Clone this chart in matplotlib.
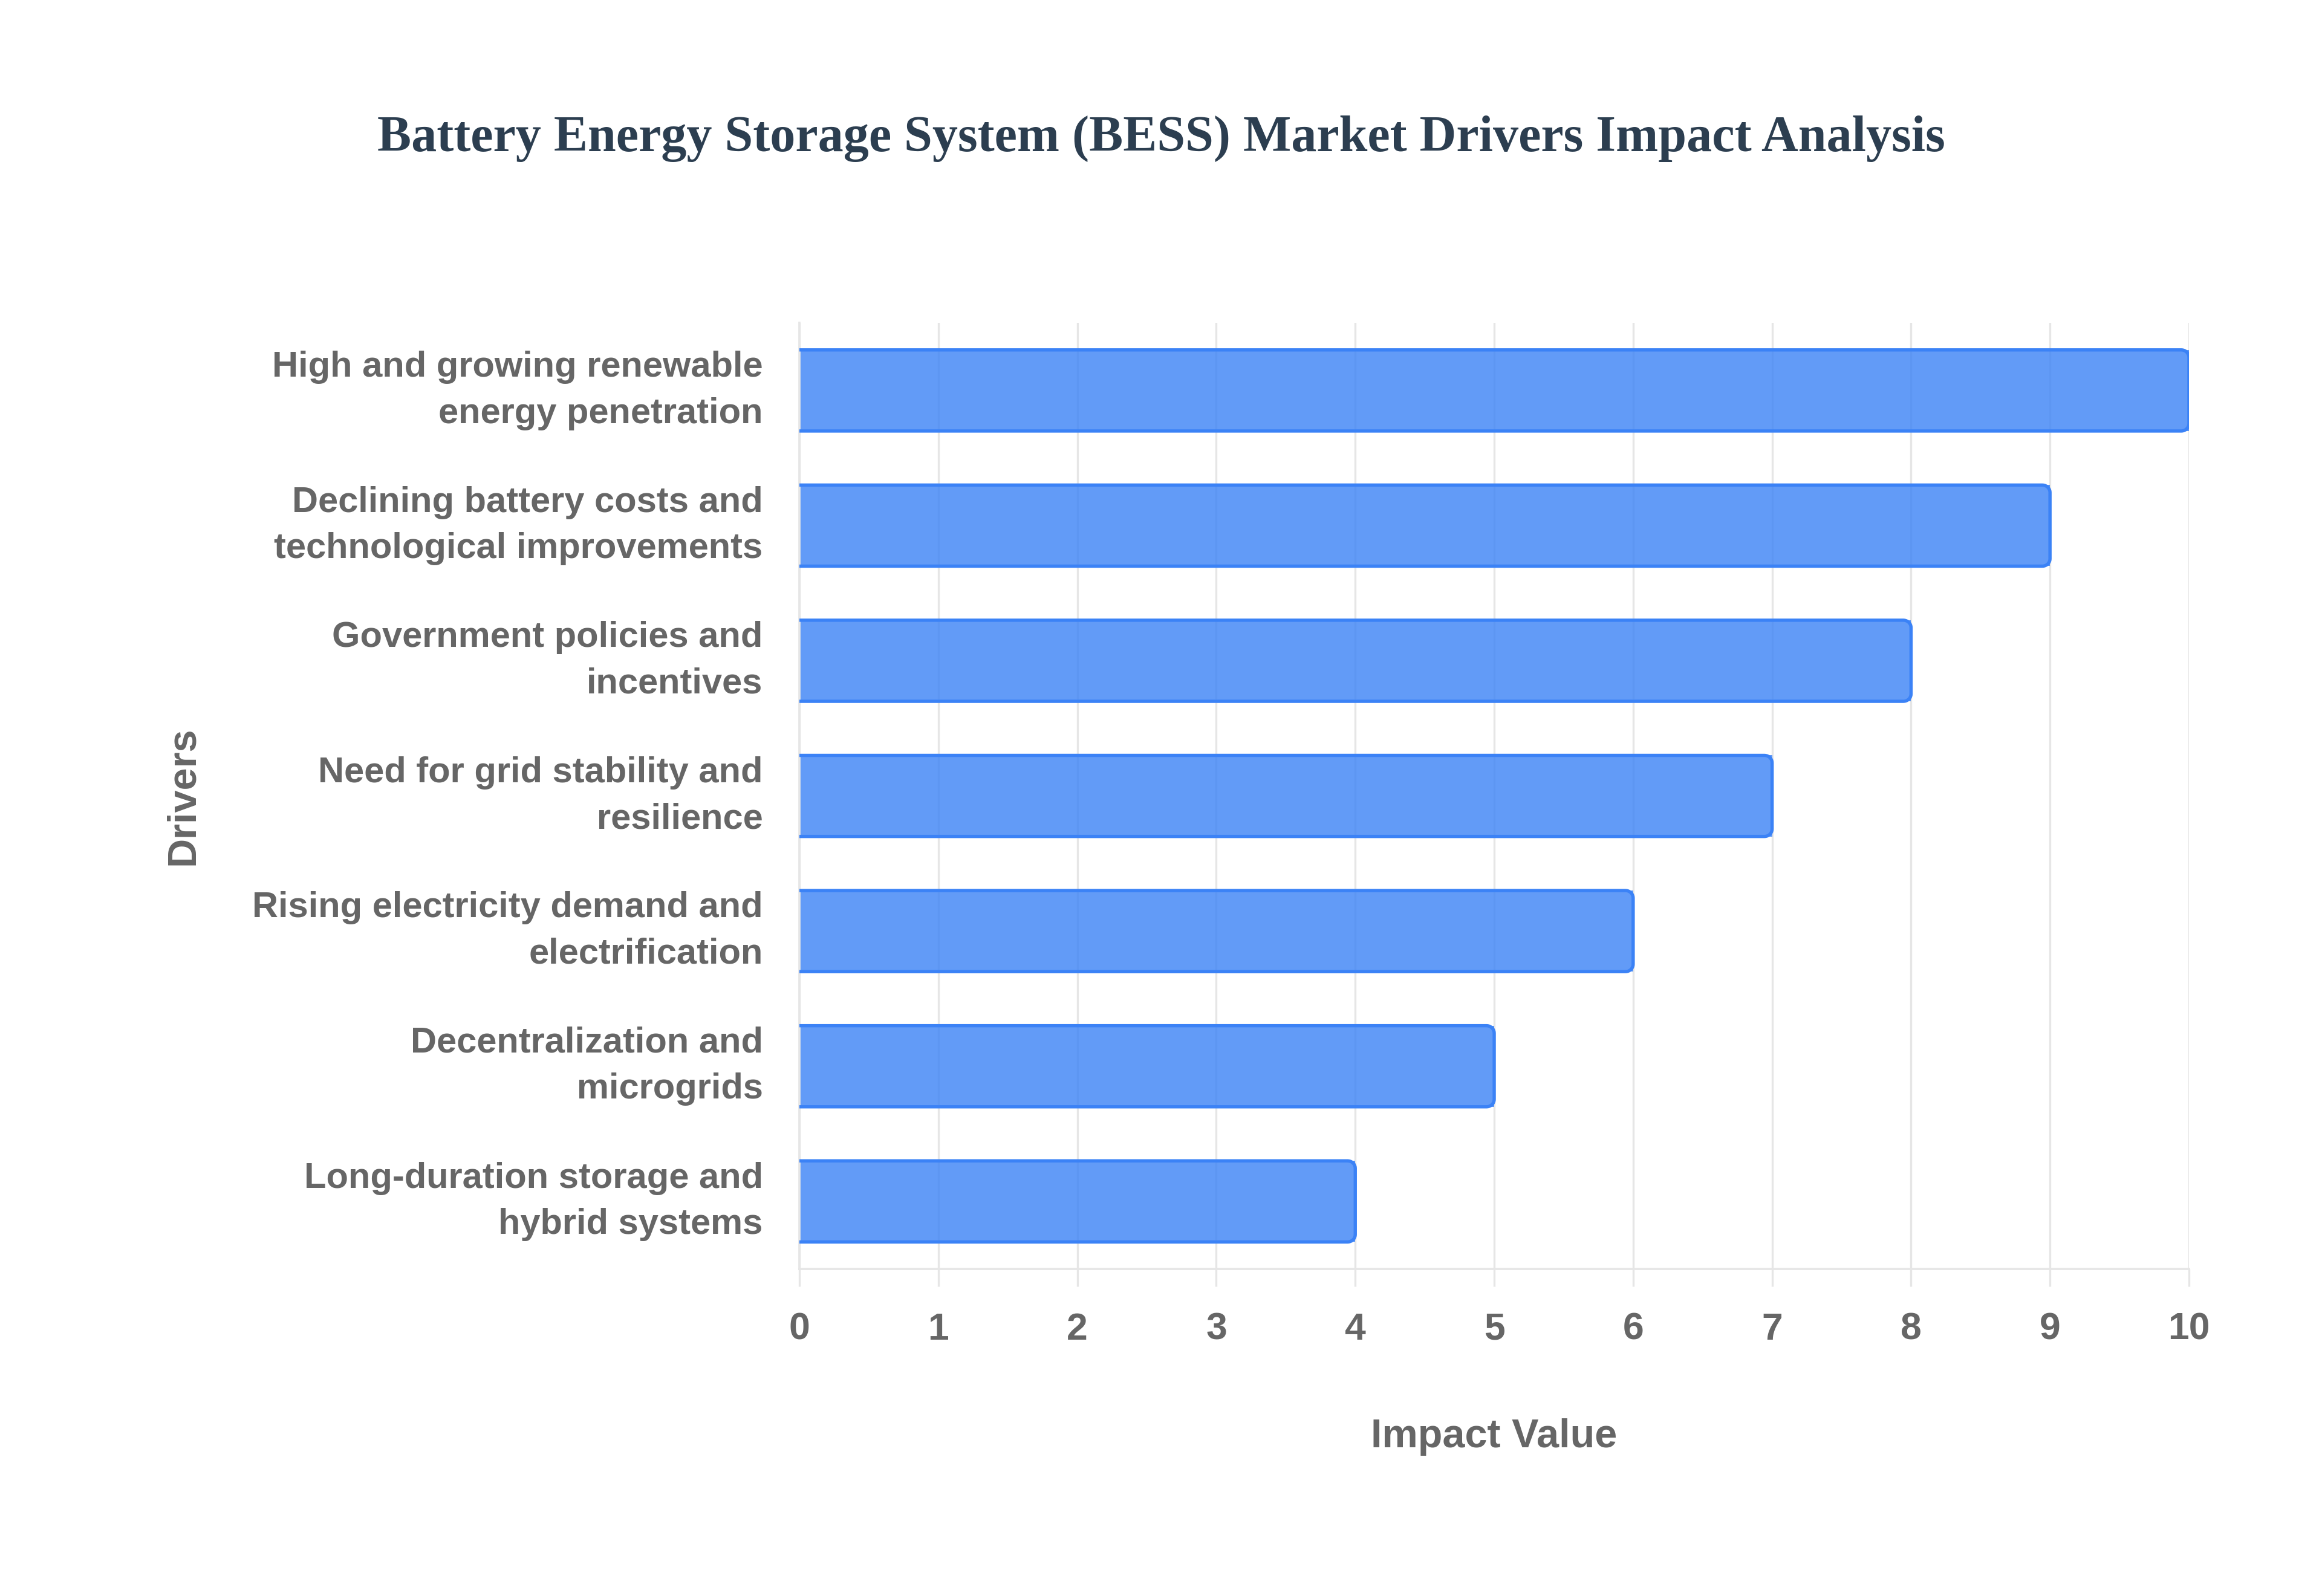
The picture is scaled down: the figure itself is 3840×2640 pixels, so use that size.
import numpy as np
import matplotlib
matplotlib.use("Agg")
import matplotlib.pyplot as plt

# data
drivers = [
    "High and growing renewable\nenergy penetration",
    "Declining battery costs and\ntechnological improvements",
    "Government policies and\nincentives",
    "Need for grid stability and\nresilience",
    "Rising electricity demand and\nelectrification",
    "Decentralization and\nmicrogrids",
    "Long-duration storage and\nhybrid systems",
]
impact = [10, 9, 8, 7, 6, 5, 4]
x_ticks = [0, 1, 2, 3, 4, 5, 6, 7, 8, 9, 10]

title = "Battery Energy Storage System (BESS) Market Drivers Impact Analysis"
fill_col = (59 / 255, 130 / 255, 246 / 255, 0.8)
edge_col = "#3b82f6"
grid_col = "#e6e6e6"
text_col = "#666666"
sans = ["Liberation Sans", "DejaVu Sans"]

fig = plt.figure(figsize=(12.8, 8.8), dpi=300)
ax = fig.add_axes([0.3443, 0.2049, 0.5984, 0.5928])

ypos = np.arange(len(drivers))
bar_h = 0.6
ax.barh(ypos, impact, height=bar_h, color=fill_col, linewidth=0, zorder=2)

# border on top, right (rounded) and bottom; left side left open
rx, ry = 0.055, 0.055
for y, v in zip(ypos, impact):
    t = np.linspace(0, np.pi / 2, 10)
    top = y - bar_h / 2
    bot = y + bar_h / 2
    pts = [(0, top), (v - rx, top)]
    pts += [(v - rx + rx * np.sin(a), top + ry - ry * np.cos(a)) for a in t]
    pts += [(v - rx + rx * np.cos(a), bot - ry + ry * np.sin(a)) for a in t]
    pts += [(v - rx, bot), (0, bot)]
    pts = np.array(pts)
    ax.plot(pts[:, 0], pts[:, 1], color=edge_col, lw=1.3, zorder=3,
            solid_joinstyle="round")

ax.set_xlim(0, 10)
ax.set_ylim(len(drivers) - 0.5, -0.5)
ax.set_xticks(x_ticks)
ax.set_yticks(ypos)
ax.set_yticklabels(drivers, linespacing=1.5, va="center")

ax.grid(axis="x", color=grid_col, lw=0.8, zorder=0)
ax.set_axisbelow(True)
for s in ["top", "right"]:
    ax.spines[s].set_visible(False)
for s in ["left", "bottom"]:
    ax.spines[s].set_color(grid_col)
    ax.spines[s].set_linewidth(0.9)

ax.tick_params(axis="x", length=7, width=0.8, color=grid_col, pad=10,
               labelsize=15, labelcolor=text_col)
ax.tick_params(axis="y", length=0, pad=14.5, labelsize=14.3,
               labelcolor=text_col)
for lab in ax.get_xticklabels() + ax.get_yticklabels():
    lab.set_fontfamily(sans)
    lab.set_fontweight("bold")

ax.set_xlabel("Impact Value", fontsize=16, fontweight="bold", color=text_col,
              family=sans, labelpad=28)
ax.set_ylabel("Drivers", fontsize=16, fontweight="bold", color=text_col,
              family=sans)
ax.yaxis.set_label_coords(-0.430, 0.5)

fig.text(0.5, 0.913, title, ha="center", va="center", fontsize=20.2,
         fontweight="bold", color="#2c3e50",
         family=["Liberation Serif", "DejaVu Serif"])

fig.savefig("out.png", dpi=300, facecolor="white")
